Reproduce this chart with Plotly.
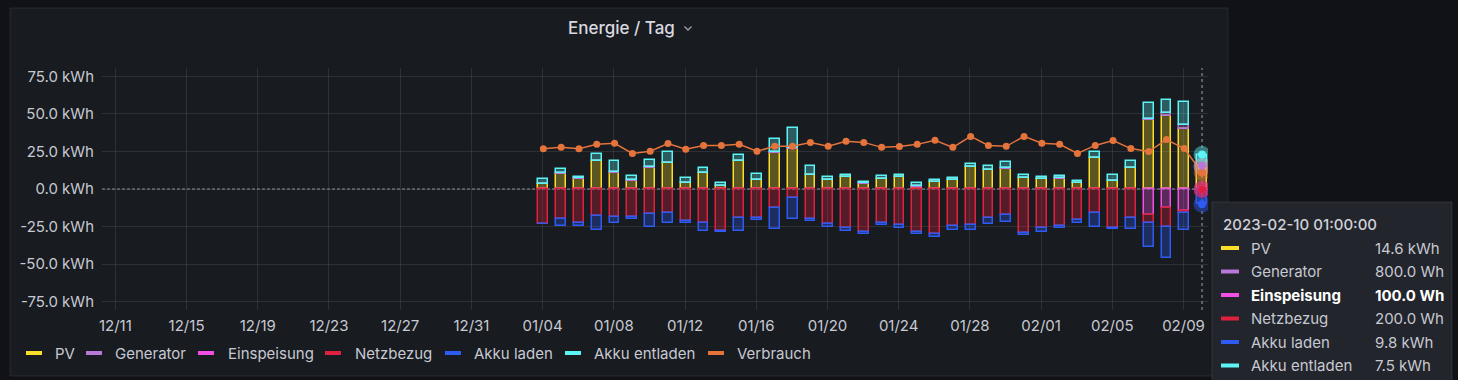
import plotly.graph_objects as go
import pandas as pd

# ---------------- data (kWh per day) ----------------
days = pd.date_range("2023-01-04 01:00", periods=38, freq="D")

pv = [3.1, 10.2, 6.9, 18.4, 10.9, 5.5, 14.2, 17.1, 3.8, 10.4,
      1.8, 18.4, 5.8, 24.2, 26.8, 9.1, 5.8, 8.0, 3.5, 6.7,
      7.8, 1.6, 4.4, 5.8, 14.4, 12.4, 13.5, 7.1, 6.4, 6.9,
      3.8, 20.3, 5.4, 13.8, 46.0, 48.4, 40.2, 14.6]
generator = [0.2] * 34 + [0.3, 2.4, 2.4, 0.8]
einspeisung = [0.2] * 34 + [17.0, 12.5, 14.5, 0.1]
netzbezug = [22.9, 20.0, 22.2, 17.5, 18.4, 18.2, 16.2, 15.5, 21.3, 22.2,
             27.5, 18.9, 19.1, 12.2, 5.6, 19.5, 22.9, 25.5, 28.2, 22.2,
             23.5, 28.2, 29.5, 24.2, 23.5, 18.9, 16.9, 28.8, 25.5, 24.2,
             20.6, 15.7, 25.7, 19.0, 5.3, 12.7, 1.4, 0.2]
akku_laden = [0.3, 4.2, 2.0, 9.4, 3.8, 1.8, 8.7, 6.7, 0.9, 5.3,
              0.9, 8.6, 1.3, 14.0, 13.9, 1.6, 2.2, 2.0, 1.5, 1.3,
              2.0, 1.3, 2.0, 2.7, 3.4, 4.0, 4.6, 1.4, 2.7, 1.3,
              1.6, 9.3, 0.4, 7.3, 16.2, 20.6, 11.3, 9.8]
akku_entladen = [3.1, 2.7, 0.7, 4.5, 7.3, 2.7, 4.7, 7.1, 3.1, 3.1,
                 1.8, 3.8, 3.8, 8.6, 13.4, 5.8, 1.8, 0.9, 0.7, 1.5,
                 1.1, 2.0, 1.2, 1.1, 1.8, 2.5, 4.0, 1.8, 1.2, 1.3,
                 1.6, 3.8, 4.0, 4.3, 10.6, 8.7, 15.6, 7.5]
verbrauch = [26.8, 27.7, 26.8, 29.7, 30.4, 23.7, 25.1, 30.2, 26.4, 29.0,
             29.0, 29.7, 25.1, 28.4, 28.4, 31.0, 28.4, 31.7, 31.0, 27.7,
             28.2, 29.7, 32.4, 27.7, 35.0, 29.0, 28.4, 35.0, 30.4, 29.7,
             23.6, 29.0, 32.2, 26.9, 24.9, 32.9, 26.9, 11.0]

y_ticks = [-75, -50, -25, 0, 25, 50, 75]
y_tick_text = [f"{v:.1f} kWh" for v in y_ticks]
hover_time = "2023-02-10 01:00:00"

# ---------------- styling ----------------
names = ["PV", "Generator", "Einspeisung", "Netzbezug", "Akku laden", "Akku entladen", "Verbrauch"]
colors = {"PV": "#FADE2A", "Generator": "#B877D9", "Einspeisung": "#F24FE6",
          "Netzbezug": "#E0203F", "Akku laden": "#2F5BF5", "Akku entladen": "#5CF4F4",
          "Verbrauch": "#E5733C"}
negative = {"Einspeisung", "Netzbezug", "Akku laden"}
series = {"PV": pv, "Generator": generator, "Einspeisung": einspeisung,
          "Netzbezug": netzbezug, "Akku laden": akku_laden, "Akku entladen": akku_entladen}

W, H = 1458, 380
PL, PR, PT, PB = 102, 1208, 68, 310
FONT = "Inter"
TXT = "#c7c9d3"
FS = 15


def px(x):
    return (x - PL) / (PR - PL)


def py(y):
    return (PB - y) / (PB - PT)


def rgba(hexc, a):
    h = hexc.lstrip("#")
    return f"rgba({int(h[0:2],16)},{int(h[2:4],16)},{int(h[4:6],16)},{a})"


fig = go.Figure()
bar_w = 0.55 * 86400000
for n in names[:6]:
    vals = series[n]
    y = [-v for v in vals] if n in negative else vals
    fig.add_trace(go.Bar(
        x=days, y=y, name=n, width=bar_w, showlegend=False,
        marker=dict(color=rgba(colors[n], 0.3), line=dict(color=colors[n], width=1.5)),
    ))

fig.add_trace(go.Scatter(
    x=days, y=verbrauch, name="Verbrauch", mode="lines+markers", showlegend=False,
    line=dict(color=colors["Verbrauch"], width=1.5),
    marker=dict(color=colors["Verbrauch"], size=7),
))

# hover markers at the last timestamp (stacked positions)
i = len(days) - 1
pos_top = {}
acc = 0
for n in ["PV", "Generator", "Akku entladen"]:
    acc += series[n][i]
    pos_top[n] = acc
acc = 0
for n in ["Einspeisung", "Netzbezug", "Akku laden"]:
    acc -= series[n][i]
    pos_top[n] = acc
pos_top["Verbrauch"] = verbrauch[i]
order = ["Akku laden", "Einspeisung", "PV", "Verbrauch", "Generator", "Netzbezug", "Akku entladen"]
hx = [days[i]] * len(order)
hy = [pos_top[n] for n in order]
hc = [colors[n] for n in order]
fig.add_trace(go.Scatter(x=hx, y=hy, mode="markers", showlegend=False, hoverinfo="skip",
                         marker=dict(color=hc, size=17, opacity=0.45, line=dict(width=0))))
fig.add_trace(go.Scatter(x=hx, y=hy, mode="markers", showlegend=False, hoverinfo="skip",
                         marker=dict(color=hc, size=8, line=dict(width=0))))

shapes = []
annotations = []
# panel background
shapes.append(dict(type="rect", xref="paper", yref="paper", layer="below",
                   x0=px(10), x1=px(1228), y0=py(376), y1=py(8),
                   fillcolor="#181b1f", line=dict(color="rgba(204,204,220,0.10)", width=1)))
# zero line
shapes.append(dict(type="line", xref="paper", yref="y", layer="between",
                   x0=0, x1=1, y0=0, y1=0,
                   line=dict(color="#50545b", width=2, dash="3px,2px")))
# crosshair
shapes.append(dict(type="line", xref="x", yref="paper", layer="between",
                   x0=hover_time, x1=hover_time, y0=0, y1=1,
                   line=dict(color="#5c6068", width=2, dash="3px,3px")))
# title
annotations.append(dict(xref="paper", yref="paper", x=px(621.5), y=py(28), text="Energie / Tag",
                        showarrow=False, xanchor="center", yanchor="middle",
                        font=dict(family=FONT, size=17, weight=500, color="#d8d9e0")))
shapes.append(dict(type="path", xref="paper", yref="paper",
                   path=f"M {px(684.5)} {py(26.5)} L {px(688)} {py(30)} L {px(691.5)} {py(26.5)}",
                   line=dict(color="#a0a2ab", width=1.3)))

# legend (manual, Grafana style)
leg_sw = [26, 86, 198, 325, 445, 565, 708]
leg_tx = [53, 113, 226, 353, 472, 592, 735]
for n, sx, tx in zip(names, leg_sw, leg_tx):
    shapes.append(dict(type="rect", xref="paper", yref="paper",
                       x0=px(sx), x1=px(sx + 16), y0=py(355), y1=py(351),
                       fillcolor=colors[n], line=dict(width=0)))
    annotations.append(dict(xref="paper", yref="paper", x=px(tx), y=py(353), text=n,
                            showarrow=False, xanchor="left", yanchor="middle",
                            font=dict(family=FONT, size=FS, color=TXT)))

# tooltip
shapes.append(dict(type="rect", xref="paper", yref="paper", layer="above",
                   x0=px(1212), x1=px(1452), y0=py(395), y1=py(202),
                   fillcolor="#22252b", line=dict(color="rgba(204,204,220,0.12)", width=1)))
annotations.append(dict(xref="paper", yref="paper", x=px(1221), y=py(224), text=hover_time,
                        showarrow=False, xanchor="left", yanchor="middle",
                        font=dict(family=FONT, size=FS, weight=500, color="#d0d1d9")))


def fmt(v):
    return f"{v*1000:.1f} Wh" if v < 1 else f"{v:.1f} kWh"


row_y = [248, 271.5, 295, 318.5, 342, 365.5]
for n, ry in zip(names[:6], row_y):
    bold = n == "Einspeisung"
    col = "#ffffff" if bold else TXT
    lab = f"<b>{n}</b>" if bold else n
    val = fmt(series[n][i])
    val = f"<b>{val}</b>" if bold else val
    shapes.append(dict(type="rect", xref="paper", yref="paper", layer="above",
                       x0=px(1221), x1=px(1239), y0=py(ry + 2), y1=py(ry - 2),
                       fillcolor=colors[n], line=dict(width=0)))
    annotations.append(dict(xref="paper", yref="paper", x=px(1249), y=py(ry), text=lab,
                            showarrow=False, xanchor="left", yanchor="middle",
                            font=dict(family=FONT, size=FS, color=col)))
    annotations.append(dict(xref="paper", yref="paper", x=px(1373), y=py(ry), text=val,
                            showarrow=False, xanchor="left", yanchor="middle",
                            font=dict(family=FONT, size=FS, color=col)))

grid = "rgba(204,204,220,0.12)"
fig.update_layout(
    width=W, height=H,
    margin=dict(l=PL, r=W - PR, t=PT, b=H - PB, pad=0),
    paper_bgcolor="#111217", plot_bgcolor="rgba(0,0,0,0)",
    barmode="relative", bargap=0,
    showlegend=False,
    shapes=shapes, annotations=annotations,
    font=dict(family=FONT, size=FS, color=TXT),
    xaxis=dict(type="date", range=["2022-12-10 06:00", "2023-02-10 09:00"],
               tick0="2022-12-11", dtick=4 * 86400000, tickformat="%m/%d",
               showgrid=True, gridcolor=grid, gridwidth=1, zeroline=False,
               showline=False, ticks="", ticklabelstandoff=5,
               tickfont=dict(family=FONT, size=FS, color=TXT)),
    yaxis=dict(range=[-80.5, 80.5], tickmode="array", tickvals=y_ticks, ticktext=y_tick_text,
               showgrid=True, gridcolor=grid, gridwidth=1, zeroline=False,
               showline=False, ticks="", ticklabelstandoff=7,
               tickfont=dict(family=FONT, size=FS, color=TXT)),
)

fig.write_html(
    "out.html",
    config={"displayModeBar": False},
    post_script="document.body.style.margin='0';document.body.style.background='#111217';",
)
